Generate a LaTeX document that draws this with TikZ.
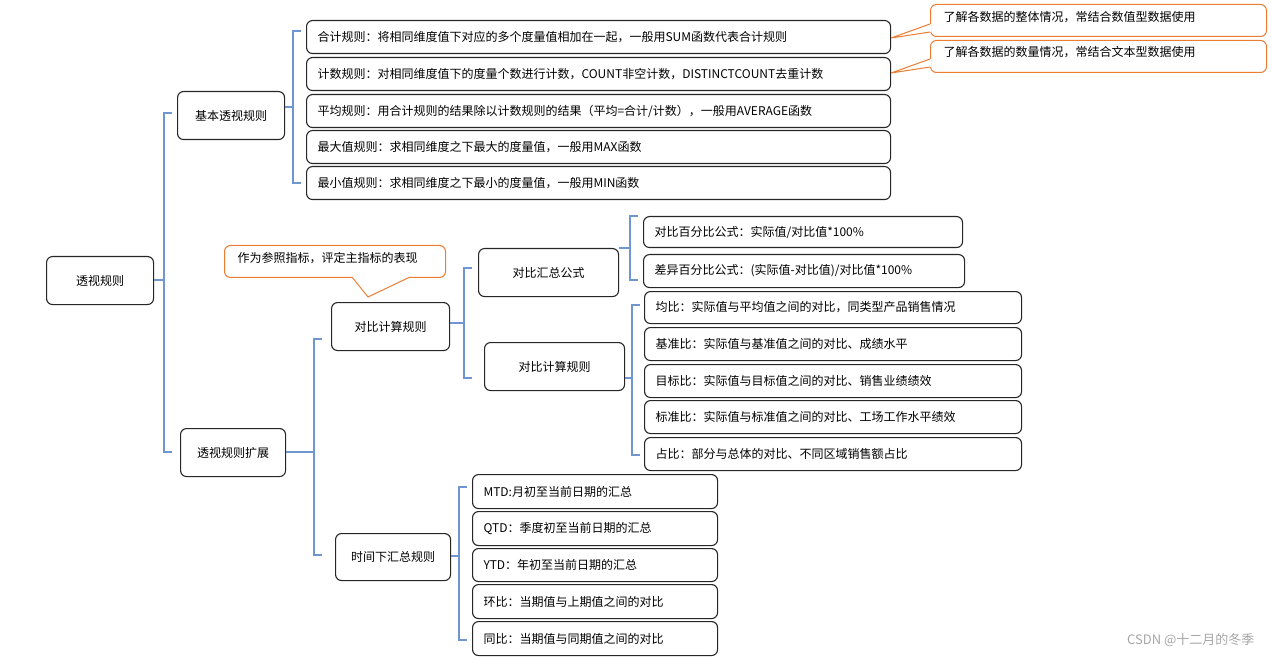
\documentclass[tikz,border=0pt]{standalone}
\usepackage{fontspec}
\setmainfont{Noto Sans CJK SC}
\definecolor{brk}{RGB}{112,150,210}
\definecolor{co}{RGB}{237,125,49}
\tikzset{
  bx/.style={draw=black!85, line width=1.1pt, rounded corners=6pt, inner sep=0pt, font=\fontsize{12}{14}\selectfont},
  brline/.style={draw=brk, line width=1.1pt},
  callout/.style={draw=co, line width=1pt, fill=white, rounded corners=6pt},
}
% \mybox{name}{x1}{y1}{x2}{y2}{align}{text}
\newcommand{\mybox}[7]{%
  \pgfmathsetmacro{\bw}{#4-#2}\pgfmathsetmacro{\bh}{#5-#3}\pgfmathsetmacro{\tw}{#4-#2-22}%
  \node[bx, anchor=north west, minimum width=\bw pt, minimum height=\bh pt, text width=\tw pt, align=#6] (#1) at (#2,#3) {#7};}
% \mybrk{x}{top}{bottom}{parent}{ymid}
\newcommand{\mybrk}[5]{%
  \draw[brline] (#1+8,#2) -- (#1,#2) -- (#1,#3) -- (#1+8,#3);
  \draw[brline] (#4.east |- 0,#5) -- (#1,#5);}
\begin{document}
\begin{tikzpicture}[x=1pt,y=-1pt]
\useasboundingbox (0,0) rectangle (1271,660);
\mybox{root}{46}{256}{153}{304}{center}{透视规则}
\mybox{basic}{177}{91}{284}{139}{center}{基本透视规则}
\mybox{ext}{180}{428}{285}{476}{center}{透视规则扩展}
\mybrk{164}{113}{452}{root}{280}

\mybox{b1}{306}{20}{890}{53}{left}{合计规则：将相同维度值下对应的多个度量值相加在一起，一般用SUM函数代表合计规则}
\mybox{b2}{306}{57}{890}{90}{left}{计数规则：对相同维度值下的度量个数进行计数，COUNT非空计数，DISTINCTCOUNT去重计数}
\mybox{b3}{306}{94}{890}{127}{left}{平均规则：用合计规则的结果除以计数规则的结果（平均=合计/计数），一般用AVERAGE函数}
\mybox{b4}{306}{130}{890}{163}{left}{最大值规则：求相同维度之下最大的度量值，一般用MAX函数}
\mybox{b5}{306}{166}{890}{199}{left}{最小值规则：求相同维度之下最小的度量值，一般用MIN函数}
\mybrk{293}{31}{183}{basic}{107}

\mybox{cmp}{331}{302}{449}{350}{center}{对比计算规则}
\mybox{time}{335}{533}{450}{580}{center}{时间下汇总规则}
\mybrk{314}{339}{555}{ext}{452}

\mybox{sum}{478}{248}{618}{296}{center}{对比汇总公式}
\mybox{cmp2}{484}{342}{624}{390}{center}{对比计算规则}
\mybrk{464}{268}{378}{cmp}{323}

\mybox{s1}{643}{216}{962}{247}{left}{对比百分比公式：实际值/对比值*100\%}
\mybox{s2}{643}{254}{964}{287}{left}{差异百分比公式：(实际值-对比值)/对比值*100\%}
\mybrk{630}{216}{280}{sum}{248}

\mybox{c1}{644}{291}{1021}{323}{left}{均比：实际值与平均值之间的对比，同类型产品销售情况}
\mybox{c2}{644}{327}{1021}{360}{left}{基准比：实际值与基准值之间的对比、成绩水平}
\mybox{c3}{644}{364}{1021}{397}{left}{目标比：实际值与目标值之间的对比、销售业绩绩效}
\mybox{c4}{644}{400}{1021}{433}{left}{标准比：实际值与标准值之间的对比、工场工作水平绩效}
\mybox{c5}{644}{437}{1021}{470}{left}{占比：部分与总体的对比、不同区域销售额占比}
\mybrk{632}{305}{455}{cmp2}{378}

\mybox{t1}{472}{474}{717}{508}{left}{MTD:月初至当前日期的汇总}
\mybox{t2}{472}{511}{717}{545}{left}{QTD：季度初至当前日期的汇总}
\mybox{t3}{472}{548}{717}{581}{left}{YTD：年初至当前日期的汇总}
\mybox{t4}{472}{584}{717}{618}{left}{环比：当期值与上期值之间的对比}
\mybox{t5}{472}{621}{717}{655}{left}{同比：当期值与同期值之间的对比}
\mybrk{459}{487}{640}{time}{556}

% callouts
\coordinate (tipA) at (b1.east |- 0,38);
\coordinate (tipB) at (b2.east |- 0,73);
\coordinate (tipC) at (368,297);
\node[callout, anchor=north west, minimum width=336pt, minimum height=32pt, inner sep=0pt] (k1) at (930,4) {};
\node[anchor=west, font=\fontsize{12}{14}\selectfont] (k1t) at (940,17) {了解各数据的整体情况，常结合数值型数据使用};
\node[callout, anchor=north west, minimum width=336pt, minimum height=32pt, inner sep=0pt] (k2) at (930,40) {};
\node[anchor=west, font=\fontsize{12}{14}\selectfont] (k2t) at (940,52) {了解各数据的数量情况，常结合文本型数据使用};
\node[callout, anchor=north west, minimum width=221pt, minimum height=32pt, inner sep=0pt] (k3) at (224,245) {};
\node[anchor=west, font=\fontsize{12}{14}\selectfont] (k3t) at (234,258) {作为参照指标，评定主指标的表现};
\fill[white] (929.5,24) rectangle (931,32);
\draw[co, line width=1pt] (k1.west |- 0,24) -- (tipA) -- (k1.west |- 0,32);
\fill[white] (929.5,59) rectangle (931,67);
\draw[co, line width=1pt] (k2.west |- 0,59) -- (tipB) -- (k2.west |- 0,67);
\fill[white] (352,276) rectangle (410,278);
\draw[co, line width=1pt] (352,277) -- (tipC) -- (410,277);

\node[anchor=east, text=black!35, font=\fontsize{13}{15}\selectfont] (wm) at (1258,640) {CSDN @十二月的冬季};
\end{tikzpicture}
\end{document}
